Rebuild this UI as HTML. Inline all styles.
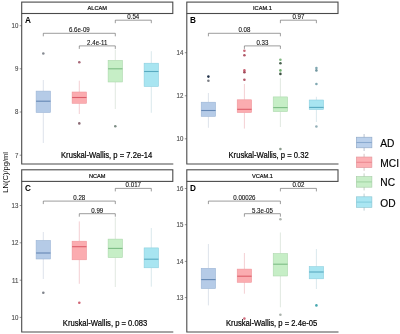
<!DOCTYPE html>
<html><head><meta charset="utf-8"><style>
html,body{margin:0;padding:0;background:#fff;width:400px;height:334px;overflow:hidden}
svg{display:block;font-family:"Liberation Sans", sans-serif;will-change:transform;filter:blur(0.3px)}
</style></head><body>
<svg width="400" height="334" viewBox="0 0 400 334">
<rect width="400" height="334" fill="#fff"/>
<rect x="21.70" y="2.10" width="151.10" height="11.40" fill="#fff" stroke="#4a4a4a" stroke-width="1.1"/>
<text x="97.25" y="10.20" font-size="5.65" text-anchor="middle" fill="#111" stroke="#111" stroke-width="0.2">ALCAM</text>
<path d="M21.70 13.50 V164.00 H173.30" fill="none" stroke="#4a4a4a" stroke-width="1.1"/>
<line x1="19.70" y1="25.70" x2="21.70" y2="25.70" stroke="#4a4a4a" stroke-width="0.6"/>
<text transform="translate(18.30 28.00) scale(1 1.1)" font-size="6.1" text-anchor="end" fill="#4d4d4d" stroke="#4d4d4d" stroke-width="0.12">10</text>
<line x1="19.70" y1="68.80" x2="21.70" y2="68.80" stroke="#4a4a4a" stroke-width="0.6"/>
<text transform="translate(18.30 71.10) scale(1 1.1)" font-size="6.1" text-anchor="end" fill="#4d4d4d" stroke="#4d4d4d" stroke-width="0.12">9</text>
<line x1="19.70" y1="112.00" x2="21.70" y2="112.00" stroke="#4a4a4a" stroke-width="0.6"/>
<text transform="translate(18.30 114.30) scale(1 1.1)" font-size="6.1" text-anchor="end" fill="#4d4d4d" stroke="#4d4d4d" stroke-width="0.12">8</text>
<line x1="19.70" y1="155.20" x2="21.70" y2="155.20" stroke="#4a4a4a" stroke-width="0.6"/>
<text transform="translate(18.30 157.50) scale(1 1.1)" font-size="6.1" text-anchor="end" fill="#4d4d4d" stroke="#4d4d4d" stroke-width="0.12">7</text>
<text x="24.90" y="23.20" font-size="8.2" font-weight="bold" fill="#000">A</text>
<line x1="43.30" y1="80.00" x2="43.30" y2="91.10" stroke="#c2ccda" stroke-width="0.55"/>
<line x1="43.30" y1="112.50" x2="43.30" y2="143.00" stroke="#c2ccda" stroke-width="0.55"/>
<rect x="36.10" y="91.10" width="14.40" height="21.40" fill="#b5cbe7" stroke="#98b2d4" stroke-width="0.55"/>
<line x1="36.10" y1="101.20" x2="50.50" y2="101.20" stroke="#6487b4" stroke-width="1.1"/>
<circle cx="43.30" cy="53.50" r="1.3" fill="#868a92"/>
<line x1="79.30" y1="80.70" x2="79.30" y2="92.00" stroke="#eaa8b0" stroke-width="0.55"/>
<line x1="79.30" y1="103.30" x2="79.30" y2="114.00" stroke="#eaa8b0" stroke-width="0.55"/>
<rect x="72.10" y="92.00" width="14.40" height="11.30" fill="#fbacb0" stroke="#ee9298" stroke-width="0.55"/>
<line x1="72.10" y1="97.50" x2="86.50" y2="97.50" stroke="#dc5e6a" stroke-width="1.1"/>
<circle cx="79.30" cy="62.20" r="1.3" fill="#a86878"/>
<circle cx="79.30" cy="123.40" r="1.3" fill="#8a6a74"/>
<line x1="115.30" y1="49.60" x2="115.30" y2="60.30" stroke="#c8d6c8" stroke-width="0.55"/>
<line x1="115.30" y1="82.00" x2="115.30" y2="109.00" stroke="#c8d6c8" stroke-width="0.55"/>
<rect x="108.10" y="60.30" width="14.40" height="21.70" fill="#c6eec6" stroke="#aad6aa" stroke-width="0.55"/>
<line x1="108.10" y1="68.80" x2="122.50" y2="68.80" stroke="#7cbc84" stroke-width="1.1"/>
<circle cx="115.30" cy="126.30" r="1.3" fill="#7e8e86"/>
<line x1="151.30" y1="51.20" x2="151.30" y2="63.20" stroke="#bcd6de" stroke-width="0.55"/>
<line x1="151.30" y1="86.50" x2="151.30" y2="112.80" stroke="#bcd6de" stroke-width="0.55"/>
<rect x="144.10" y="63.20" width="14.40" height="23.30" fill="#a8e5f1" stroke="#88cddd" stroke-width="0.55"/>
<line x1="144.10" y1="71.50" x2="158.50" y2="71.50" stroke="#58aac0" stroke-width="1.1"/>
<path d="M115.30 23.20 V20.20 H151.30 V23.20" fill="none" stroke="#5a5a5a" stroke-width="0.6"/>
<text transform="translate(133.30 19.10) scale(1 1.06)" font-size="6.15" text-anchor="middle" fill="#111" stroke="#111" stroke-width="0.1">0.54</text>
<path d="M43.30 36.30 V33.30 H115.30 V36.30" fill="none" stroke="#5a5a5a" stroke-width="0.6"/>
<text transform="translate(79.30 32.20) scale(1 1.06)" font-size="6.15" text-anchor="middle" fill="#111" stroke="#111" stroke-width="0.1">6.6e-09</text>
<path d="M79.30 48.90 V45.90 H115.30 V48.90" fill="none" stroke="#5a5a5a" stroke-width="0.6"/>
<text transform="translate(97.30 44.80) scale(1 1.06)" font-size="6.15" text-anchor="middle" fill="#111" stroke="#111" stroke-width="0.1">2.4e-11</text>
<text transform="translate(61.00 157.60) scale(1 1.12)" font-size="7.65" fill="#000" stroke="#000" stroke-width="0.18">Kruskal-Wallis, p = 7.2e-14</text>
<rect x="186.80" y="2.10" width="151.20" height="11.40" fill="#fff" stroke="#4a4a4a" stroke-width="1.1"/>
<text x="262.40" y="10.20" font-size="5.65" text-anchor="middle" fill="#111" stroke="#111" stroke-width="0.2">ICAM.1</text>
<path d="M186.80 13.50 V164.00 H338.50" fill="none" stroke="#4a4a4a" stroke-width="1.1"/>
<line x1="184.80" y1="52.70" x2="186.80" y2="52.70" stroke="#4a4a4a" stroke-width="0.6"/>
<text transform="translate(183.40 55.00) scale(1 1.1)" font-size="6.1" text-anchor="end" fill="#4d4d4d" stroke="#4d4d4d" stroke-width="0.12">14</text>
<line x1="184.80" y1="95.75" x2="186.80" y2="95.75" stroke="#4a4a4a" stroke-width="0.6"/>
<text transform="translate(183.40 98.05) scale(1 1.1)" font-size="6.1" text-anchor="end" fill="#4d4d4d" stroke="#4d4d4d" stroke-width="0.12">12</text>
<line x1="184.80" y1="138.80" x2="186.80" y2="138.80" stroke="#4a4a4a" stroke-width="0.6"/>
<text transform="translate(183.40 141.10) scale(1 1.1)" font-size="6.1" text-anchor="end" fill="#4d4d4d" stroke="#4d4d4d" stroke-width="0.12">10</text>
<text x="190.00" y="23.20" font-size="8.2" font-weight="bold" fill="#000">B</text>
<line x1="208.40" y1="93.00" x2="208.40" y2="102.20" stroke="#c2ccda" stroke-width="0.55"/>
<line x1="208.40" y1="116.40" x2="208.40" y2="127.80" stroke="#c2ccda" stroke-width="0.55"/>
<rect x="201.20" y="102.20" width="14.40" height="14.20" fill="#b5cbe7" stroke="#98b2d4" stroke-width="0.55"/>
<line x1="201.20" y1="110.50" x2="215.60" y2="110.50" stroke="#6487b4" stroke-width="1.1"/>
<circle cx="208.40" cy="76.60" r="1.3" fill="#22324a"/>
<circle cx="208.40" cy="80.70" r="1.3" fill="#7c7f86"/>
<line x1="244.40" y1="84.00" x2="244.40" y2="99.80" stroke="#eaa8b0" stroke-width="0.55"/>
<line x1="244.40" y1="112.50" x2="244.40" y2="128.60" stroke="#eaa8b0" stroke-width="0.55"/>
<rect x="237.20" y="99.80" width="14.40" height="12.70" fill="#fbacb0" stroke="#ee9298" stroke-width="0.55"/>
<line x1="237.20" y1="109.30" x2="251.60" y2="109.30" stroke="#dc5e6a" stroke-width="1.1"/>
<circle cx="244.40" cy="50.80" r="1.3" fill="#c86878"/>
<circle cx="244.40" cy="55.20" r="1.3" fill="#b05868"/>
<circle cx="244.40" cy="70.40" r="1.3" fill="#c86070"/>
<circle cx="244.40" cy="72.20" r="1.3" fill="#a04858"/>
<circle cx="244.40" cy="79.80" r="1.3" fill="#b05868"/>
<line x1="280.40" y1="78.30" x2="280.40" y2="96.90" stroke="#c8d6c8" stroke-width="0.55"/>
<line x1="280.40" y1="111.60" x2="280.40" y2="127.00" stroke="#c8d6c8" stroke-width="0.55"/>
<rect x="273.20" y="96.90" width="14.40" height="14.70" fill="#c6eec6" stroke="#aad6aa" stroke-width="0.55"/>
<line x1="273.20" y1="107.60" x2="287.60" y2="107.60" stroke="#7cbc84" stroke-width="1.1"/>
<circle cx="280.40" cy="59.80" r="1.3" fill="#80b880"/>
<circle cx="280.40" cy="63.30" r="1.3" fill="#4a6050"/>
<circle cx="280.40" cy="70.40" r="1.3" fill="#70b070"/>
<circle cx="280.40" cy="73.90" r="1.3" fill="#3a5040"/>
<circle cx="280.40" cy="149.00" r="1.3" fill="#8a9a8c"/>
<line x1="316.40" y1="96.80" x2="316.40" y2="100.00" stroke="#bcd6de" stroke-width="0.55"/>
<line x1="316.40" y1="109.50" x2="316.40" y2="122.00" stroke="#bcd6de" stroke-width="0.55"/>
<rect x="309.20" y="100.00" width="14.40" height="9.50" fill="#a8e5f1" stroke="#88cddd" stroke-width="0.55"/>
<line x1="309.20" y1="107.40" x2="323.60" y2="107.40" stroke="#58aac0" stroke-width="1.1"/>
<circle cx="316.40" cy="68.00" r="1.3" fill="#80a8b2"/>
<circle cx="316.40" cy="70.40" r="1.3" fill="#70969f"/>
<circle cx="316.40" cy="84.00" r="1.3" fill="#80a8b2"/>
<circle cx="316.40" cy="126.50" r="1.3" fill="#94b0b8"/>
<path d="M280.40 23.20 V20.20 H316.40 V23.20" fill="none" stroke="#5a5a5a" stroke-width="0.6"/>
<text transform="translate(298.40 19.10) scale(1 1.06)" font-size="6.15" text-anchor="middle" fill="#111" stroke="#111" stroke-width="0.1">0.97</text>
<path d="M208.40 36.30 V33.30 H280.40 V36.30" fill="none" stroke="#5a5a5a" stroke-width="0.6"/>
<text transform="translate(244.40 32.20) scale(1 1.06)" font-size="6.15" text-anchor="middle" fill="#111" stroke="#111" stroke-width="0.1">0.08</text>
<path d="M244.40 48.90 V45.90 H280.40 V48.90" fill="none" stroke="#5a5a5a" stroke-width="0.6"/>
<text transform="translate(262.40 44.80) scale(1 1.06)" font-size="6.15" text-anchor="middle" fill="#111" stroke="#111" stroke-width="0.1">0.33</text>
<text transform="translate(228.50 157.60) scale(1 1.12)" font-size="7.65" fill="#000" stroke="#000" stroke-width="0.18">Kruskal-Wallis, p = 0.32</text>
<rect x="21.70" y="169.80" width="151.10" height="11.60" fill="#fff" stroke="#4a4a4a" stroke-width="1.1"/>
<text x="97.25" y="177.90" font-size="5.65" text-anchor="middle" fill="#111" stroke="#111" stroke-width="0.2">NCAM</text>
<path d="M21.70 181.40 V332.00 H173.30" fill="none" stroke="#4a4a4a" stroke-width="1.1"/>
<line x1="19.70" y1="205.50" x2="21.70" y2="205.50" stroke="#4a4a4a" stroke-width="0.6"/>
<text transform="translate(18.30 207.80) scale(1 1.1)" font-size="6.1" text-anchor="end" fill="#4d4d4d" stroke="#4d4d4d" stroke-width="0.12">13</text>
<line x1="19.70" y1="242.80" x2="21.70" y2="242.80" stroke="#4a4a4a" stroke-width="0.6"/>
<text transform="translate(18.30 245.10) scale(1 1.1)" font-size="6.1" text-anchor="end" fill="#4d4d4d" stroke="#4d4d4d" stroke-width="0.12">12</text>
<line x1="19.70" y1="280.20" x2="21.70" y2="280.20" stroke="#4a4a4a" stroke-width="0.6"/>
<text transform="translate(18.30 282.50) scale(1 1.1)" font-size="6.1" text-anchor="end" fill="#4d4d4d" stroke="#4d4d4d" stroke-width="0.12">11</text>
<line x1="19.70" y1="317.40" x2="21.70" y2="317.40" stroke="#4a4a4a" stroke-width="0.6"/>
<text transform="translate(18.30 319.70) scale(1 1.1)" font-size="6.1" text-anchor="end" fill="#4d4d4d" stroke="#4d4d4d" stroke-width="0.12">10</text>
<text x="24.90" y="191.10" font-size="8.2" font-weight="bold" fill="#000">C</text>
<line x1="43.30" y1="232.00" x2="43.30" y2="240.40" stroke="#c2ccda" stroke-width="0.55"/>
<line x1="43.30" y1="259.00" x2="43.30" y2="279.00" stroke="#c2ccda" stroke-width="0.55"/>
<rect x="36.10" y="240.40" width="14.40" height="18.60" fill="#b5cbe7" stroke="#98b2d4" stroke-width="0.55"/>
<line x1="36.10" y1="253.00" x2="50.50" y2="253.00" stroke="#6487b4" stroke-width="1.1"/>
<circle cx="43.30" cy="292.70" r="1.3" fill="#80848c"/>
<line x1="79.30" y1="221.40" x2="79.30" y2="241.20" stroke="#eaa8b0" stroke-width="0.55"/>
<line x1="79.30" y1="259.80" x2="79.30" y2="283.80" stroke="#eaa8b0" stroke-width="0.55"/>
<rect x="72.10" y="241.20" width="14.40" height="18.60" fill="#fbacb0" stroke="#ee9298" stroke-width="0.55"/>
<line x1="72.10" y1="246.70" x2="86.50" y2="246.70" stroke="#dc5e6a" stroke-width="1.1"/>
<circle cx="79.30" cy="302.80" r="1.3" fill="#d06474"/>
<line x1="115.30" y1="217.50" x2="115.30" y2="239.10" stroke="#c8d6c8" stroke-width="0.55"/>
<line x1="115.30" y1="257.60" x2="115.30" y2="287.00" stroke="#c8d6c8" stroke-width="0.55"/>
<rect x="108.10" y="239.10" width="14.40" height="18.50" fill="#c6eec6" stroke="#aad6aa" stroke-width="0.55"/>
<line x1="108.10" y1="248.40" x2="122.50" y2="248.40" stroke="#7cbc84" stroke-width="1.1"/>
<line x1="151.30" y1="228.00" x2="151.30" y2="247.90" stroke="#bcd6de" stroke-width="0.55"/>
<line x1="151.30" y1="267.80" x2="151.30" y2="286.70" stroke="#bcd6de" stroke-width="0.55"/>
<rect x="144.10" y="247.90" width="14.40" height="19.90" fill="#a8e5f1" stroke="#88cddd" stroke-width="0.55"/>
<line x1="144.10" y1="259.20" x2="158.50" y2="259.20" stroke="#58aac0" stroke-width="1.1"/>
<path d="M115.30 191.40 V188.40 H151.30 V191.40" fill="none" stroke="#5a5a5a" stroke-width="0.6"/>
<text transform="translate(133.30 187.30) scale(1 1.06)" font-size="6.15" text-anchor="middle" fill="#111" stroke="#111" stroke-width="0.1">0.017</text>
<path d="M43.30 204.10 V201.10 H115.30 V204.10" fill="none" stroke="#5a5a5a" stroke-width="0.6"/>
<text transform="translate(79.30 200.00) scale(1 1.06)" font-size="6.15" text-anchor="middle" fill="#111" stroke="#111" stroke-width="0.1">0.28</text>
<path d="M79.30 216.70 V213.70 H115.30 V216.70" fill="none" stroke="#5a5a5a" stroke-width="0.6"/>
<text transform="translate(97.30 212.60) scale(1 1.06)" font-size="6.15" text-anchor="middle" fill="#111" stroke="#111" stroke-width="0.1">0.99</text>
<text transform="translate(62.80 325.60) scale(1 1.12)" font-size="7.65" fill="#000" stroke="#000" stroke-width="0.18">Kruskal-Wallis, p = 0.083</text>
<rect x="186.80" y="169.80" width="151.20" height="11.60" fill="#fff" stroke="#4a4a4a" stroke-width="1.1"/>
<text x="262.40" y="177.90" font-size="5.65" text-anchor="middle" fill="#111" stroke="#111" stroke-width="0.2">VCAM.1</text>
<path d="M186.80 181.40 V332.00 H338.50" fill="none" stroke="#4a4a4a" stroke-width="1.1"/>
<line x1="184.80" y1="188.50" x2="186.80" y2="188.50" stroke="#4a4a4a" stroke-width="0.6"/>
<text transform="translate(183.40 190.80) scale(1 1.1)" font-size="6.1" text-anchor="end" fill="#4d4d4d" stroke="#4d4d4d" stroke-width="0.12">16</text>
<line x1="184.80" y1="224.70" x2="186.80" y2="224.70" stroke="#4a4a4a" stroke-width="0.6"/>
<text transform="translate(183.40 227.00) scale(1 1.1)" font-size="6.1" text-anchor="end" fill="#4d4d4d" stroke="#4d4d4d" stroke-width="0.12">15</text>
<line x1="184.80" y1="261.40" x2="186.80" y2="261.40" stroke="#4a4a4a" stroke-width="0.6"/>
<text transform="translate(183.40 263.70) scale(1 1.1)" font-size="6.1" text-anchor="end" fill="#4d4d4d" stroke="#4d4d4d" stroke-width="0.12">14</text>
<line x1="184.80" y1="297.60" x2="186.80" y2="297.60" stroke="#4a4a4a" stroke-width="0.6"/>
<text transform="translate(183.40 299.90) scale(1 1.1)" font-size="6.1" text-anchor="end" fill="#4d4d4d" stroke="#4d4d4d" stroke-width="0.12">13</text>
<text x="190.00" y="191.10" font-size="8.2" font-weight="bold" fill="#000">D</text>
<line x1="208.40" y1="244.00" x2="208.40" y2="268.30" stroke="#c2ccda" stroke-width="0.55"/>
<line x1="208.40" y1="288.60" x2="208.40" y2="305.40" stroke="#c2ccda" stroke-width="0.55"/>
<rect x="201.20" y="268.30" width="14.40" height="20.30" fill="#b5cbe7" stroke="#98b2d4" stroke-width="0.55"/>
<line x1="201.20" y1="279.60" x2="215.60" y2="279.60" stroke="#6487b4" stroke-width="1.1"/>
<line x1="244.40" y1="253.00" x2="244.40" y2="269.10" stroke="#eaa8b0" stroke-width="0.55"/>
<line x1="244.40" y1="282.30" x2="244.40" y2="293.70" stroke="#eaa8b0" stroke-width="0.55"/>
<rect x="237.20" y="269.10" width="14.40" height="13.20" fill="#fbacb0" stroke="#ee9298" stroke-width="0.55"/>
<line x1="237.20" y1="276.20" x2="251.60" y2="276.20" stroke="#dc5e6a" stroke-width="1.1"/>
<circle cx="244.40" cy="318.60" r="1.3" fill="#d07080"/>
<line x1="280.40" y1="232.50" x2="280.40" y2="253.50" stroke="#c8d6c8" stroke-width="0.55"/>
<line x1="280.40" y1="276.00" x2="280.40" y2="307.30" stroke="#c8d6c8" stroke-width="0.55"/>
<rect x="273.20" y="253.50" width="14.40" height="22.50" fill="#c6eec6" stroke="#aad6aa" stroke-width="0.55"/>
<line x1="273.20" y1="264.20" x2="287.60" y2="264.20" stroke="#7cbc84" stroke-width="1.1"/>
<circle cx="280.40" cy="219.30" r="1.3" fill="#b0b6b0"/>
<circle cx="280.40" cy="314.80" r="1.3" fill="#aab2ac"/>
<line x1="316.40" y1="249.00" x2="316.40" y2="266.60" stroke="#bcd6de" stroke-width="0.55"/>
<line x1="316.40" y1="278.80" x2="316.40" y2="289.00" stroke="#bcd6de" stroke-width="0.55"/>
<rect x="309.20" y="266.60" width="14.40" height="12.20" fill="#a8e5f1" stroke="#88cddd" stroke-width="0.55"/>
<line x1="309.20" y1="272.00" x2="323.60" y2="272.00" stroke="#58aac0" stroke-width="1.1"/>
<circle cx="316.40" cy="305.40" r="1.3" fill="#48a8b0"/>
<path d="M280.40 191.40 V188.40 H316.40 V191.40" fill="none" stroke="#5a5a5a" stroke-width="0.6"/>
<text transform="translate(298.40 187.30) scale(1 1.06)" font-size="6.15" text-anchor="middle" fill="#111" stroke="#111" stroke-width="0.1">0.02</text>
<path d="M208.40 204.10 V201.10 H280.40 V204.10" fill="none" stroke="#5a5a5a" stroke-width="0.6"/>
<text transform="translate(244.40 200.00) scale(1 1.06)" font-size="6.15" text-anchor="middle" fill="#111" stroke="#111" stroke-width="0.1">0.00026</text>
<path d="M244.40 216.70 V213.70 H280.40 V216.70" fill="none" stroke="#5a5a5a" stroke-width="0.6"/>
<text transform="translate(262.40 212.60) scale(1 1.06)" font-size="6.15" text-anchor="middle" fill="#111" stroke="#111" stroke-width="0.1">5.3e-05</text>
<text transform="translate(226.00 325.60) scale(1 1.12)" font-size="7.65" fill="#000" stroke="#000" stroke-width="0.18">Kruskal-Wallis, p = 2.4e-05</text>
<text transform="translate(8.4 172.3) rotate(-90)" font-size="7.55" text-anchor="middle" fill="#000">LN(C)/pg/ml</text>
<line x1="364.10" y1="134.00" x2="364.10" y2="151.00" stroke="#8a9aae" stroke-width="0.6"/>
<rect x="356.30" y="137.20" width="15.60" height="10.60" fill="#bad0eb" stroke="#8ea6c4" stroke-width="0.6"/>
<line x1="356.30" y1="142.50" x2="371.90" y2="142.50" stroke="#8aaad0" stroke-width="1.1"/>
<text x="380.3" y="146.90" font-size="10.2" fill="#000" stroke="#000" stroke-width="0.15">AD</text>
<line x1="364.10" y1="153.80" x2="364.10" y2="170.80" stroke="#b8989c" stroke-width="0.6"/>
<rect x="356.30" y="157.00" width="15.60" height="10.60" fill="#fcb0b4" stroke="#e0949a" stroke-width="0.6"/>
<line x1="356.30" y1="162.30" x2="371.90" y2="162.30" stroke="#ec8a92" stroke-width="1.1"/>
<text x="380.3" y="166.70" font-size="10.2" fill="#000" stroke="#000" stroke-width="0.15">MCI</text>
<line x1="364.10" y1="173.40" x2="364.10" y2="190.40" stroke="#98b098" stroke-width="0.6"/>
<rect x="356.30" y="176.60" width="15.60" height="10.60" fill="#c8eec8" stroke="#a6cca6" stroke-width="0.6"/>
<line x1="356.30" y1="181.90" x2="371.90" y2="181.90" stroke="#a2d4a4" stroke-width="1.1"/>
<text x="380.3" y="186.30" font-size="10.2" fill="#000" stroke="#000" stroke-width="0.15">NC</text>
<line x1="364.10" y1="193.60" x2="364.10" y2="210.60" stroke="#90acb4" stroke-width="0.6"/>
<rect x="356.30" y="196.80" width="15.60" height="10.60" fill="#aae6f2" stroke="#88c4d0" stroke-width="0.6"/>
<line x1="356.30" y1="202.10" x2="371.90" y2="202.10" stroke="#84cede" stroke-width="1.1"/>
<text x="380.3" y="206.50" font-size="10.2" fill="#000" stroke="#000" stroke-width="0.15">OD</text>
</svg>
</body></html>
